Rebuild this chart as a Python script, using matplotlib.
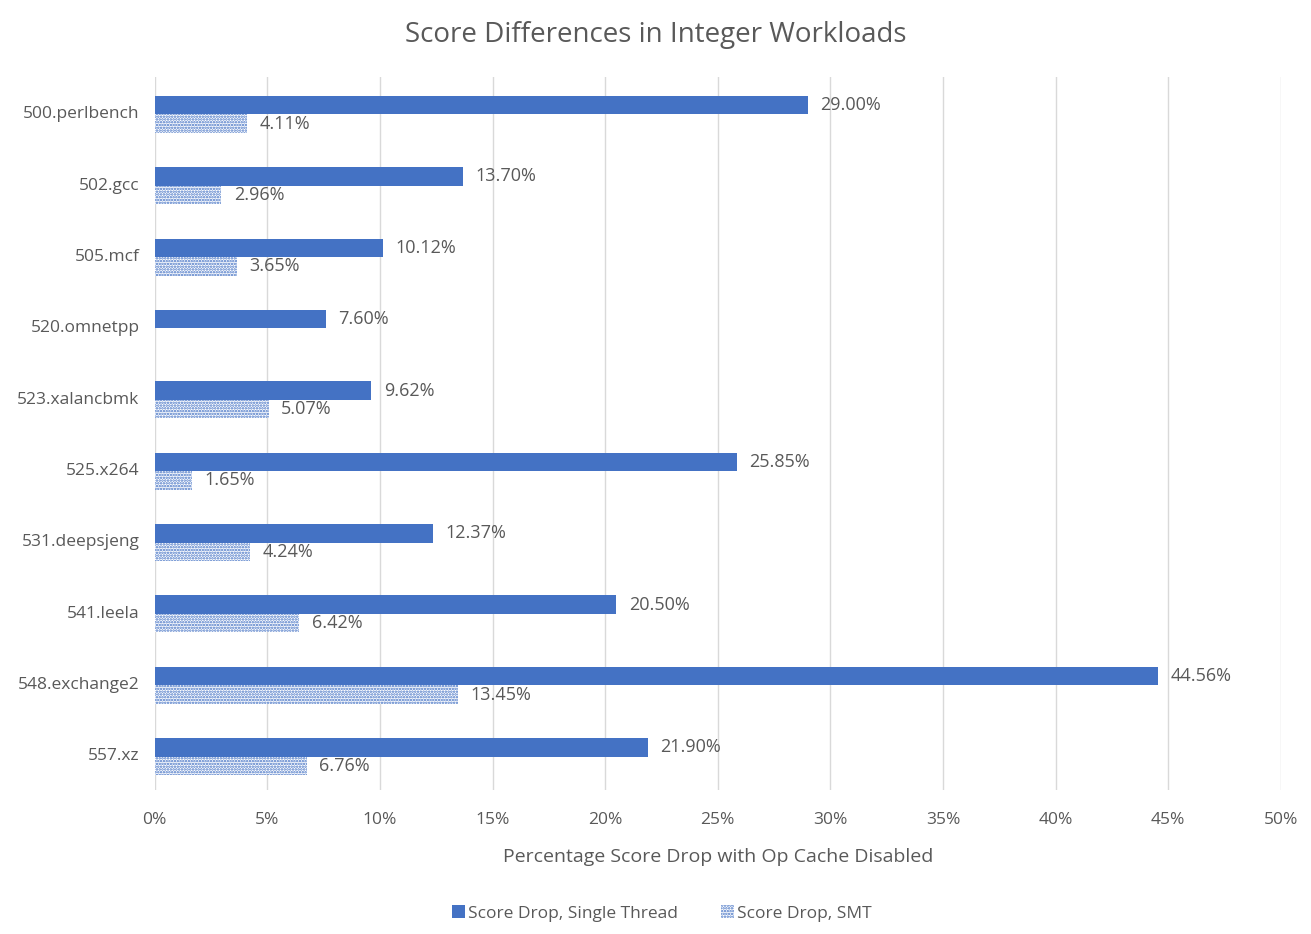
import matplotlib.pyplot as plt
import numpy as np

plt.rcParams['font.family'] = ['Open Sans', 'DejaVu Sans']
plt.rcParams['hatch.linewidth'] = 1.2

benchmarks = ['500.perlbench', '502.gcc', '505.mcf', '520.omnetpp', '523.xalancbmk',
              '525.x264', '531.deepsjeng', '541.leela', '548.exchange2', '557.xz']
single_thread = [29.00, 13.70, 10.12, 7.60, 9.62, 25.85, 12.37, 20.50, 44.56, 21.90]
smt = [4.11, 2.96, 3.65, np.nan, 5.07, 1.65, 4.24, 6.42, 13.45, 6.76]

blue = '#4472C4'
grey = '#595959'

fig = plt.figure(figsize=(13.11, 9.34), dpi=100)
ax = fig.add_axes([0.118, 0.154, 0.859, 0.764])

y = np.arange(len(benchmarks))
h = 0.26
b1 = ax.barh(y - h / 2 + 0.03, single_thread, height=h, color=blue, label='Score Drop, Single Thread')
b2 = ax.barh(y + h / 2 + 0.03, np.nan_to_num(smt), height=h, color='white', edgecolor=blue,
             hatch='......', linewidth=0, label='Score Drop, SMT')

for yy, v in zip(y, single_thread):
    ax.text(v + 0.55, yy - h / 2 + 0.03, f'{v:.2f}%', va='center', ha='left', fontsize=13, color=grey)
for yy, v in zip(y, smt):
    if not np.isnan(v):
        ax.text(v + 0.55, yy + h / 2 + 0.03, f'{v:.2f}%', va='center', ha='left', fontsize=13, color=grey)

ax.set_xlim(0, 50)
ax.set_ylim(len(benchmarks) - 0.5, -0.5)
ax.set_yticks(y)
ax.set_yticklabels(benchmarks)
ax.set_xticks(np.arange(0, 51, 5))
ax.set_xticklabels([f'{t}%' for t in range(0, 51, 5)])
ax.tick_params(axis='both', length=0, labelsize=12.5, labelcolor=grey)
ax.tick_params(axis='y', pad=11)
ax.tick_params(axis='x', pad=16)
ax.grid(axis='x', color='#d9d9d9', linewidth=1)
ax.set_axisbelow(True)
for s in ax.spines.values():
    s.set_visible(False)

ax.set_xlabel('Percentage Score Drop with Op Cache Disabled', fontsize=14, color=grey, labelpad=14)
fig.suptitle('Score Differences in Integer Workloads', fontsize=20, color=grey, y=0.978)

fig.legend(handles=[b1, b2], loc='center', bbox_to_anchor=(0.505, 0.022), ncol=2, frameon=False,
           fontsize=12.5, labelcolor=grey, handlelength=0.7, handleheight=0.7,
           handletextpad=0.2, columnspacing=2.5)

fig.savefig('out.png', dpi=100)
